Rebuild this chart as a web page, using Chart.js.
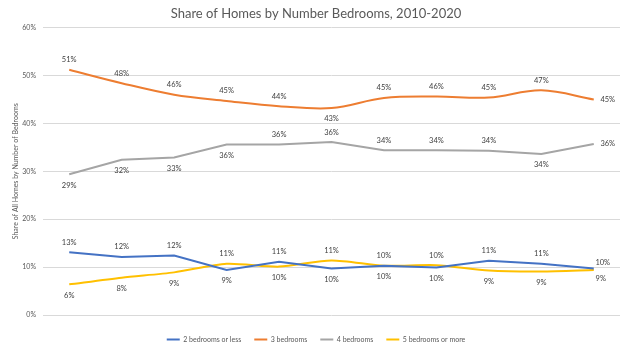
<!DOCTYPE html>
<html>
<head>
<meta charset="utf-8">
<script src="https://cdn.jsdelivr.net/npm/chart.js@4.4.1/dist/chart.umd.min.js"></script>
<style>
  html, body { margin: 0; padding: 0; background: #fff; }
  canvas { display: block; }
</style>
</head>
<body>
<canvas id="chart" width="624" height="351"></canvas>
<script>
// values (percent of homes)
var years = ['2010', '2011', '2012', '2013', '2014', '2015', '2016', '2017', '2018', '2019', '2020'];
var twoOrLess = [13.1, 12.1, 12.4, 9.4, 11.1, 9.7, 10.3, 9.9, 11.3, 10.7, 9.7];
var threeBed = [51.2, 48.4, 46.0, 44.7, 43.6, 43.2, 45.3, 45.6, 45.4, 46.9, 45.0];
var fourBed = [29.4, 32.4, 32.9, 35.6, 35.6, 36.1, 34.4, 34.4, 34.3, 33.6, 35.7];
var fiveOrMore = [6.4, 7.8, 8.9, 10.7, 10.1, 11.4, 10.3, 10.4, 9.3, 9.1, 9.4];

var seriesNames = ['2 bedrooms or less', '3 bedrooms', '4 bedrooms', '5 bedrooms or more'];
var yTicks = [0, 10, 20, 30, 40, 50, 60];

// where each data label sits: a = above, b = below, r = right, ar / br = corners
var labelPos = [
    ['a', 'a', 'a', 'b', 'a', 'b', 'a', 'b', 'a', 'a', 'ar'],
    ['a', 'a', 'a', 'a', 'a', 'b', 'a', 'a', 'a', 'a', 'r'],
    ['b', 'b', 'b', 'b', 'a', 'a', 'a', 'a', 'a', 'b', 'r'],
    ['b', 'b', 'b', 'a', 'b', 'a', 'b', 'a', 'b', 'b', 'br']
];

var textColor = '#595959';
var fontName = 'Lato';

var pointLabels = {
    id: 'pointLabels',
    afterDatasetsDraw: function(chart) {
        var ctx = chart.ctx;
        ctx.save();
        ctx.font = '7.5px ' + fontName;
        ctx.fillStyle = '#404040';
        ctx.textAlign = 'center';
        ctx.textBaseline = 'middle';
        chart.data.datasets.forEach(function(ds, i) {
            var meta = chart.getDatasetMeta(i);
            meta.data.forEach(function(pt, j) {
                var pos = labelPos[i][j];
                var dx = 0, dy = 0;
                if (pos == 'a') dy = -10;
                else if (pos == 'b') dy = 11;
                else if (pos == 'r') dx = 14;
                else if (pos == 'ar') { dx = 9; dy = -6; }
                else if (pos == 'br') { dx = 7; dy = 9; }
                ctx.fillText(Math.round(ds.data[j]) + '%', pt.x + dx, pt.y + dy);
            });
        });
        ctx.restore();
    }
};

// keep wide gaps between legend items but a short legend box
var legendHeight = {
    id: 'legendHeight',
    beforeLayout: function(chart) {
        var lg = chart.legend;
        if (lg && !lg._patched) {
            var fit = lg.fit;
            lg.fit = function() {
                fit.call(this);
                this.height = 28;
            };
            lg._patched = true;
        }
    }
};

function makeSet(label, data, color, tension) {
    return {
        label: label,
        data: data,
        borderColor: color,
        backgroundColor: color,
        borderWidth: 2,
        pointRadius: 0,
        tension: tension,
        fill: false
    };
}

var ctx = document.getElementById('chart').getContext('2d');
var myChart = new Chart(ctx, {
    type: 'line',
    data: {
        labels: years,
        datasets: [
            makeSet(seriesNames[0], twoOrLess, '#4472C4', 0),
            makeSet(seriesNames[1], threeBed, '#ED7D31', 0.35),
            makeSet(seriesNames[2], fourBed, '#A5A5A5', 0),
            makeSet(seriesNames[3], fiveOrMore, '#FFC000', 0.25)
        ]
    },
    options: {
        responsive: false,
        animation: false,
        layout: { padding: { left: 12, right: 4, top: 0, bottom: 0 } },
        plugins: {
            title: {
                display: true,
                text: 'Share of Homes by Number Bedrooms, 2010-2020',
                color: textColor,
                font: { family: fontName, size: 13, weight: 'normal' },
                padding: { top: 6, bottom: 6 }
            },
            legend: {
                position: 'bottom',
                labels: {
                    color: textColor,
                    font: { family: fontName, size: 7 },
                    boxWidth: 13,
                    boxHeight: 2,
                    padding: 13,
                    generateLabels: function(chart) {
                        var items = Chart.defaults.plugins.legend.labels.generateLabels(chart);
                        items.forEach(function(it) { it.lineWidth = 0; });
                        return items;
                    }
                }
            },
            tooltip: { enabled: false }
        },
        scales: {
            x: {
                offset: true,
                grid: { display: false },
                border: { display: false },
                afterFit: function(scale) { scale.height = 8; },
                ticks: {
                    color: textColor,
                    font: { family: fontName, size: 9.5 },
                    padding: 8
                }
            },
            y: {
                min: 0,
                max: 60,
                afterBuildTicks: function(scale) {
                    scale.ticks = yTicks.map(function(v) { return { value: v }; });
                },
                afterFit: function(scale) { scale.width = 31; },
                grid: { color: '#d9d9d9', drawTicks: false },
                border: { display: false },
                ticks: {
                    color: textColor,
                    font: { family: fontName, size: 7 },
                    padding: 7,
                    callback: function(v) { return v + '%'; }
                },
                title: {
                    display: true,
                    text: 'Share of All Homes by Number of Bedrooms',
                    color: textColor,
                    font: { family: fontName, size: 7 },
                    padding: { top: 0, bottom: 0 }
                }
            }
        }
    },
    plugins: [pointLabels, legendHeight]
});
</script>
</body>
</html>
